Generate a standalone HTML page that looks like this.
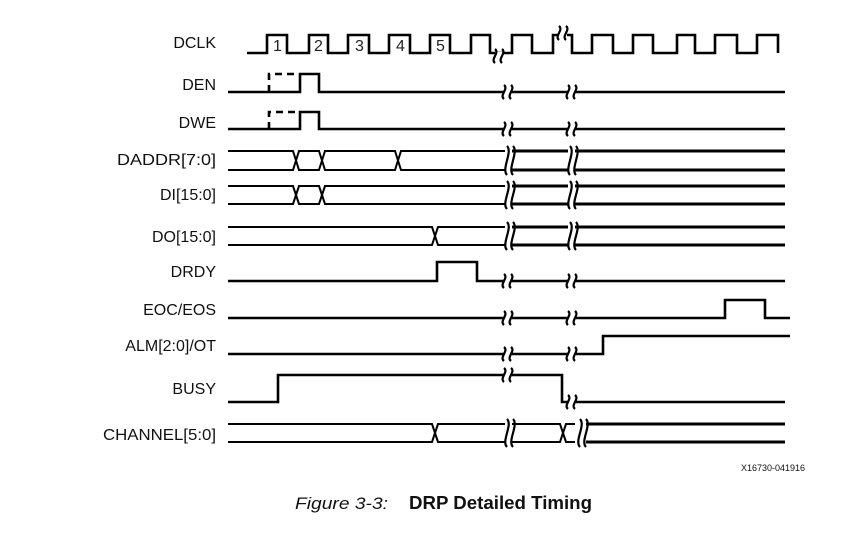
<!DOCTYPE html>
<html><head><meta charset="utf-8"><style>
html,body{margin:0;padding:0;background:#fff;}
svg{display:block;}
.l{font-family:"Liberation Sans",Arial,sans-serif;font-size:16px;fill:#111;text-anchor:end;}
.n{font-family:"Liberation Sans",Arial,sans-serif;font-size:16px;fill:#222;}
</style></head><body>
<svg width="865" height="542" viewBox="0 0 865 542" xmlns="http://www.w3.org/2000/svg">
<defs>
<g id="sq"><rect x="-4" y="-4" width="8" height="8" fill="#fff" stroke="none"/>
<path d="M-4 -7 C1 -3 -9 3 -4 7 M3 -7 C8 -3 -2 3 3 7" fill="none" stroke="#000" stroke-width="2.2"/></g>
</defs>
<g class="l">
<text x="216" y="48">DCLK</text>
<text x="216" y="90">DEN</text>
<text x="216" y="128">DWE</text>
<text x="216" y="165" textLength="99" lengthAdjust="spacingAndGlyphs">DADDR[7:0]</text>
<text x="216" y="200">DI[15:0]</text>
<text x="216" y="242">DO[15:0]</text>
<text x="216" y="277">DRDY</text>
<text x="216" y="315">EOC/EOS</text>
<text x="216" y="351">ALM[2:0]/OT</text>
<text x="216" y="394">BUSY</text>
<text x="216" y="440" textLength="113" lengthAdjust="spacingAndGlyphs">CHANNEL[5:0]</text>
</g>
<g fill="none" stroke="#000" stroke-width="2.6" stroke-linejoin="miter">
<path d="M247 53 H267 V35 H287 V53 H309 V35 H328 V53 H348 V35 H369 V53 H389 V35 H410 V53 H430 V35 H450 V53 H471 V35 H490 V53 H512 V35 H532 V53 H553 V35 H572 V53 H592 V35 H613 V53 H633 V35 H653 V53 H677 V35 H695 V53 H715 V35 H737 V53 H757 V35 H778 V53"/>
<path d="M228 92 H300 V74 H319 V92 H785"/>
<path d="M269 92 V74 H299" stroke-dasharray="7 5"/>
<path d="M228 129 H300 V112 H319 V129 H785"/>
<path d="M269 129 V112 H299" stroke-dasharray="7 5"/>
<path stroke-width="2" d="M228 151 H293 L299 170 H319 L325 151 H395 L401 170 H505"/>
<path stroke-width="2" d="M228 170 H293 L299 151 H319 L325 170 H395 L401 151 H505"/>
<path stroke-width="3" d="M512 151 H568 M512 170 H568 M575 151 H785 M575 170 H785"/>
<path stroke-width="2" d="M228 186 H293 L299 204 H319 L325 186 H505"/>
<path stroke-width="2" d="M228 204 H293 L299 186 H319 L325 204 H505"/>
<path stroke-width="3" d="M512 186 H568 M512 204 H568 M575 186 H785 M575 204 H785"/>
<path stroke-width="2" d="M228 227 H432 L438 245 H505"/>
<path stroke-width="2" d="M228 245 H432 L438 227 H505"/>
<path stroke-width="3" d="M512 227 H568 M512 245 H568 M575 227 H785 M575 245 H785"/>
<path d="M228 281 H437 V262 H477 V281 H785"/>
<path d="M228 318 H725 V300 H765 V318 H790"/>
<path d="M228 354 H603 V336 H790"/>
<path d="M228 402 H278 V375 H562 V402 H785"/>
<path stroke-width="2" d="M228 424 H432 L438 442 H505"/>
<path stroke-width="2" d="M228 442 H432 L438 424 H505"/>
<path stroke-width="2" d="M512 424 H560 L566 442 H575"/>
<path stroke-width="2" d="M512 442 H560 L566 424 H575"/>
<path stroke-width="3" d="M586 424 H785 M586 442 H785"/>
</g>
<g class="n">
<text x="273" y="51">1</text><text x="314" y="51">2</text><text x="355" y="51">3</text><text x="396" y="51">4</text><text x="436" y="51">5</text>
</g>
<use href="#sq" transform="translate(499,56)"/>
<use href="#sq" transform="translate(563,33)"/>
<use href="#sq" transform="translate(508,92)"/>
<use href="#sq" transform="translate(572,92)"/>
<use href="#sq" transform="translate(508,129)"/>
<use href="#sq" transform="translate(572,129)"/>
<use href="#sq" transform="translate(508,281)"/>
<use href="#sq" transform="translate(572,281)"/>
<use href="#sq" transform="translate(508,318)"/>
<use href="#sq" transform="translate(572,318)"/>
<use href="#sq" transform="translate(508,354)"/>
<use href="#sq" transform="translate(572,354)"/>
<use href="#sq" transform="translate(508,375)"/>
<use href="#sq" transform="translate(572,402)"/>
<g fill="none" stroke="#000" stroke-width="2.2">
<path d="M507 146 C513 152 501 169 507 175 M513 146 C519 152 507 169 513 175"/>
<path d="M570 146 C576 152 564 169 570 175 M576 146 C582 152 570 169 576 175"/>
<path d="M507 181 C513 187 501 203 507 209 M513 181 C519 187 507 203 513 209"/>
<path d="M570 181 C576 187 564 203 570 209 M576 181 C582 187 570 203 576 209"/>
<path d="M507 222 C513 228 501 244 507 250 M513 222 C519 228 507 244 513 250"/>
<path d="M570 222 C576 228 564 244 570 250 M576 222 C582 228 570 244 576 250"/>
<path d="M507 419 C513 425 501 441 507 447 M513 419 C519 425 507 441 513 447"/>
<path d="M580 419 C586 425 574 441 580 447 M586 419 C592 425 580 441 586 447"/>
</g>
<text x="805" y="471" font-family="Liberation Sans,Arial,sans-serif" font-size="9" text-anchor="end" fill="#111">X16730-041916</text>
<text x="295" y="509" font-family="Liberation Sans,Arial,sans-serif" font-size="17" font-style="italic" fill="#111" textLength="93" lengthAdjust="spacingAndGlyphs">Figure 3-3:</text>
<text x="409" y="509" font-family="Liberation Sans,Arial,sans-serif" font-size="18" font-weight="bold" fill="#111" textLength="183" lengthAdjust="spacingAndGlyphs">DRP Detailed Timing</text>
</svg>
</body></html>
